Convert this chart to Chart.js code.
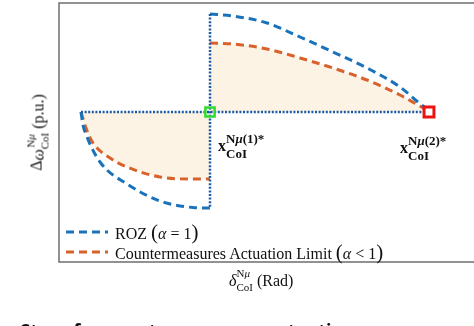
<!DOCTYPE html>
<html>
<head>
<meta charset="utf-8">
<script src="https://cdn.jsdelivr.net/npm/chart.js@4/dist/chart.umd.min.js"></script>
<style>
  html, body { margin: 0; padding: 0; background: #fff; }
  #wrap { position: relative; width: 474px; height: 326px; overflow: hidden; }
  #c { position: absolute; left: 0; top: 0; }
  .serif { font-family: "Liberation Serif", "DejaVu Serif", serif; color: #111; font-weight: 400; }
  .lbl { position: absolute; white-space: nowrap; }
  .stack { display: inline-flex; flex-direction: column; vertical-align: middle; line-height: 1; }
  .legrow { position: absolute; left: 66px; height: 20px; display: flex; align-items: center; font-size: 16px; }
  .legrow svg { margin-right: 7px; }
  .par { font-size: 21px; }
  .op { margin: 0 4px; }
  #caption { position: absolute; left: 0; top: 318px; font-family: "Open Sans", "Noto Sans", sans-serif; font-weight: 700; font-size: 18px; color: #111; white-space: nowrap; }
</style>
</head>
<body>
<div id="wrap">
  <canvas id="c" width="474" height="326"></canvas>

  <!-- legend -->
  <div class="legrow serif" style="top:222px;">
    <svg width="42" height="6"><line x1="0" y1="3" x2="42" y2="3" stroke="#1a72bb" stroke-width="3" stroke-dasharray="8,5"/></svg>
    <span>ROZ <span class="par">(</span><i>α</i><span class="op">=</span>1<span class="par">)</span></span>
  </div>
  <div class="legrow serif" style="top:242px;">
    <svg width="42" height="6"><line x1="0" y1="3" x2="42" y2="3" stroke="#d8622b" stroke-width="3" stroke-dasharray="8,5"/></svg>
    <span>Countermeasures Actuation Limit <span class="par">(</span><i>α</i><span class="op">&lt;</span>1<span class="par">)</span></span>
  </div>

  <!-- point annotations -->
  <div class="lbl serif" style="left:218px; top:132px; font-weight:700;">
    <span style="font-size:16px; vertical-align:middle;">x</span><span class="stack" style="font-size:13px;"><span>N<i>μ</i>(1)*</span><span style="font-size:13px; margin-top:2px;">CoI</span></span>
  </div>
  <div class="lbl serif" style="left:400px; top:134px; font-weight:700;">
    <span style="font-size:16px; vertical-align:middle;">x</span><span class="stack" style="font-size:13px;"><span>N<i>μ</i>(2)*</span><span style="font-size:13px; margin-top:2px;">CoI</span></span>
  </div>

  <!-- axis titles -->
  <div class="lbl serif" style="left:229px; top:268px; font-size:16px;">
    <i style="vertical-align:middle;">δ</i><span class="stack" style="font-size:11px;"><span><span>N</span><i>μ</i></span><span style="margin-top:3px;">CoI</span></span> <span style="vertical-align:middle;">(Rad)</span>
  </div>
  <div class="lbl serif" style="left:-14px; top:120px; width:104px; font-size:16px; transform:rotate(-90deg); text-align:center;">
    Δ<i style="vertical-align:middle;">ω</i><span class="stack" style="font-size:11px;"><span><span>N</span><i>μ</i></span><span style="margin-top:3px;">CoI</span></span> <span style="vertical-align:middle;">(p.u.)</span>
  </div>

  <div id="caption"><span style="color:#1a72bb;">a</span>&nbsp;&nbsp;Steps for countermeasures actuation</div>
</div>

<script>
// upper branch (right of x*(1))
const upperX = [0, 0.23, 0.57, 0.90, 1.23, 1.57, 1.90, 2.08, 2.17];
const rozUpperY = [0.98, 0.96, 0.89, 0.75, 0.60, 0.44, 0.25, 0.10, 0.03];
const limitUpperY = [0.69, 0.68, 0.63, 0.54, 0.44, 0.32, 0.17, 0.07, 0.02];

// lower branch (left of x*(1))
const rozLowerX = [-1.29, -1.27, -1.23, -1.10, -0.83, -0.50, -0.17, 0];
const rozLowerY = [0, -0.13, -0.25, -0.50, -0.72, -0.89, -0.955, -0.96];
const limitLowerX = [-1.29, -1.24, -1.17, -1.00, -0.83, -0.50, -0.17, 0];
const limitLowerY = [0, -0.16, -0.31, -0.46, -0.55, -0.65, -0.67, -0.67];

// dotted guide lines
const axisLineX = [-1.29, 2.19];
const axisLineY = [0, 0];
const vertLineX = [0, 0];
const vertLineY = [0.98, -0.96];

// equilibrium points
const eq1 = { x: 0, y: 0 };
const eq2 = { x: 2.19, y: 0 };

const BLUE = '#1a72bb';
const DOT_BLUE = '#1a5aa6';
const ORANGE = '#d8622b';
const FILL = '#fdf3e4';

const toPts = (xs, ys) => xs.map((x, i) => ({ x: x, y: ys[i] }));

const boxBorder = {
    id: 'boxBorder',
    afterDraw(chart) {
        const { ctx, chartArea: a } = chart;
        ctx.save();
        ctx.strokeStyle = '#6d6d6d';
        ctx.lineWidth = 1.5;
        ctx.beginPath();
        ctx.moveTo(a.right + 2, a.top);
        ctx.lineTo(a.left, a.top);
        ctx.lineTo(a.left, a.bottom);
        ctx.lineTo(a.right + 2, a.bottom);
        ctx.stroke();
        ctx.restore();
    }
};

const curve = (data, color, fill, order) => ({
    data: data,
    order: order,
    borderColor: color,
    borderWidth: 3,
    borderDash: [8, 5],
    pointRadius: 0,
    cubicInterpolationMode: 'monotone',
    fill: fill ? 'origin' : false,
    backgroundColor: FILL,
});

const dotted = (data) => ({
    data: data,
    order: 2,
    borderColor: DOT_BLUE,
    borderWidth: 2.5,
    borderDash: [2, 1.6],
    pointRadius: 0,
    fill: false,
});

new Chart(document.getElementById('c'), {
    type: 'line',
    data: {
        datasets: [
            curve(toPts(upperX, limitUpperY), ORANGE, true, 4),
            curve(toPts(limitLowerX, limitLowerY), ORANGE, true, 4),
            curve(toPts(upperX, rozUpperY), BLUE, false, 3),
            curve(toPts(rozLowerX, rozLowerY), BLUE, false, 3),
            dotted(toPts(axisLineX, axisLineY)),
            dotted(toPts(vertLineX, vertLineY)),
            {
                data: [eq1],
                order: 0,
                showLine: false,
                pointStyle: 'rect',
                pointRadius: 6.5,
                pointBorderWidth: 2.5,
                pointBorderColor: '#2fdc2f',
                pointBackgroundColor: 'rgba(0,0,0,0)',
            },
            {
                data: [eq2],
                order: 0,
                showLine: false,
                pointStyle: 'rect',
                pointRadius: 7,
                pointBorderWidth: 3,
                pointBorderColor: '#ee1111',
                pointBackgroundColor: '#ffffff',
            },
        ]
    },
    options: {
        responsive: false,
        animation: false,
        devicePixelRatio: 1,
        layout: { autoPadding: false, padding: { left: 59, top: 3, right: 0, bottom: 64 } },
        scales: {
            x: { type: 'linear', min: -1.51, max: 2.64, display: false },
            y: { type: 'linear', min: -1.50, max: 1.09, display: false }
        },
        plugins: {
            legend: { display: false },
            tooltip: { enabled: false }
        }
    },
    plugins: [boxBorder]
});
</script>
</body>
</html>
